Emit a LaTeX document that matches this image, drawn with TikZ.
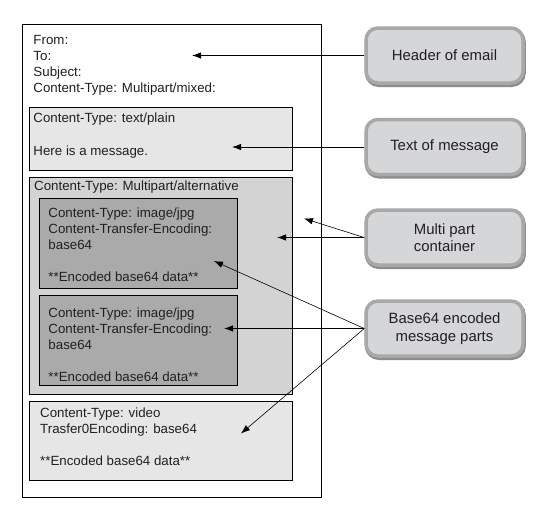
\documentclass[tikz,border=0pt]{standalone}
\usepackage{fontspec}
\setmainfont{Liberation Sans}
\usetikzlibrary{arrows.meta,positioning}
\definecolor{inkgray}{HTML}{231F20}
\definecolor{plainfill}{HTML}{E6E6E6}
\definecolor{multifill}{HTML}{D3D3D3}
\definecolor{jpgfill}{HTML}{AAAAAA}
\definecolor{notefill}{HTML}{D5D6D8}
\definecolor{noteedge}{HTML}{A8A8A8}
\definecolor{noteshade}{HTML}{8C8C8C}
\tikzset{
  part/.style={draw, line width=0.8pt, anchor=north west, inner sep=0pt},
  parttext/.style={anchor=north west, inner sep=0pt, align=left, text=inkgray,
    font=\fontsize{13.3}{16}\selectfont},
  note/.style={draw=noteedge, line width=3.5pt, fill=notefill, rounded corners=12pt,
    minimum width=157pt, minimum height=55pt, align=center, text=inkgray,
    font=\fontsize{14.9}{17.5}\selectfont,
    preaction={draw=noteshade, line width=4pt, transform canvas={shift={(0.8pt,-2pt)}}}},
  pointer/.style={-{Latex[length=9pt,width=6.5pt]}, line width=0.9pt},
  slant/.style={pointer, line width=0.6pt}
}
\begin{document}
\begin{tikzpicture}[x=1pt, y=-1pt]
    \useasboundingbox (0,0) rectangle (539,506);
    % the email and its parts
    \node[part, minimum width=299pt, minimum height=473pt] (email) at (22,24) {};
    \node[part, fill=plainfill, minimum width=263pt, minimum height=63pt] (plain) at (29,107) {};
    \node[part, fill=multifill, minimum width=263pt, minimum height=217pt] (multi) at (29,177) {};
    \node[part, fill=jpgfill, minimum width=198pt, minimum height=90pt] (jpgA) at (39,198) {};
    \node[part, fill=jpgfill, minimum width=198pt, minimum height=90pt] (jpgB) at (39,295) {};
    \node[part, fill=plainfill, minimum width=263pt, minimum height=79pt] (video) at (29,401) {};
    \node[parttext] (headtxt) at (33.3,35) {From:\\To:\\Subject:\\Content-Type: Multipart/mixed:};
    \node[parttext] (plaintxt) at (33.3,112.5) {Content-Type: text/plain\\[17pt]Here is a message.};
    \node[parttext] (multitxt) at (34,181) {Content-Type: Multipart/alternative};
    \node[parttext] (jpgAtxt) at (48.3,207.7) {Content-Type: image/jpg\\Content-Transfer-Encoding:\\base64\\[16pt]**Encoded base64 data**};
    \node[parttext] (jpgBtxt) at (48.3,307.5) {Content-Type: image/jpg\\Content-Transfer-Encoding:\\base64\\[16.5pt]**Encoded base64 data**};
    \node[parttext] (videotxt) at (40,407.7) {Content-Type: video\\Trasfer0Encoding: base64\\[16pt]**Encoded base64 data**};
    % labels on the right
    \node[note] (headnote) at (444.5,55.5) {Header of email};
    \node[note] (textnote) at (444.5,147) {Text of message};
    \node[note] (multinote) at (444.5,237.5) {Multi part\\container};
    \node[note] (basenote) at (444.5,328.5) {Base64 encoded\\message parts};
    % arrow tips
    \coordinate (headtip) at (192,55.5);
    \coordinate (texttip) at (232,147);
    \coordinate (multitipA) at (304,218.5);
    \coordinate (multitipB) at (277,237.5);
    \coordinate (basetipA) at (214,261);
    \coordinate (basetipB) at (224,328.5);
    \coordinate (basetipC) at (241,433.5);
    \draw[pointer] (headnote.west) -- (headtip);
    \draw[pointer] (textnote.west) -- (texttip);
    \draw[slant] (multinote.west) -- (multitipA);
    \draw[pointer] (multinote.west) -- (multitipB);
    \draw[slant] (basenote.west) -- (basetipA);
    \draw[pointer] (basenote.west) -- (basetipB);
    \draw[slant] (basenote.west) -- (basetipC);
\end{tikzpicture}
\end{document}
